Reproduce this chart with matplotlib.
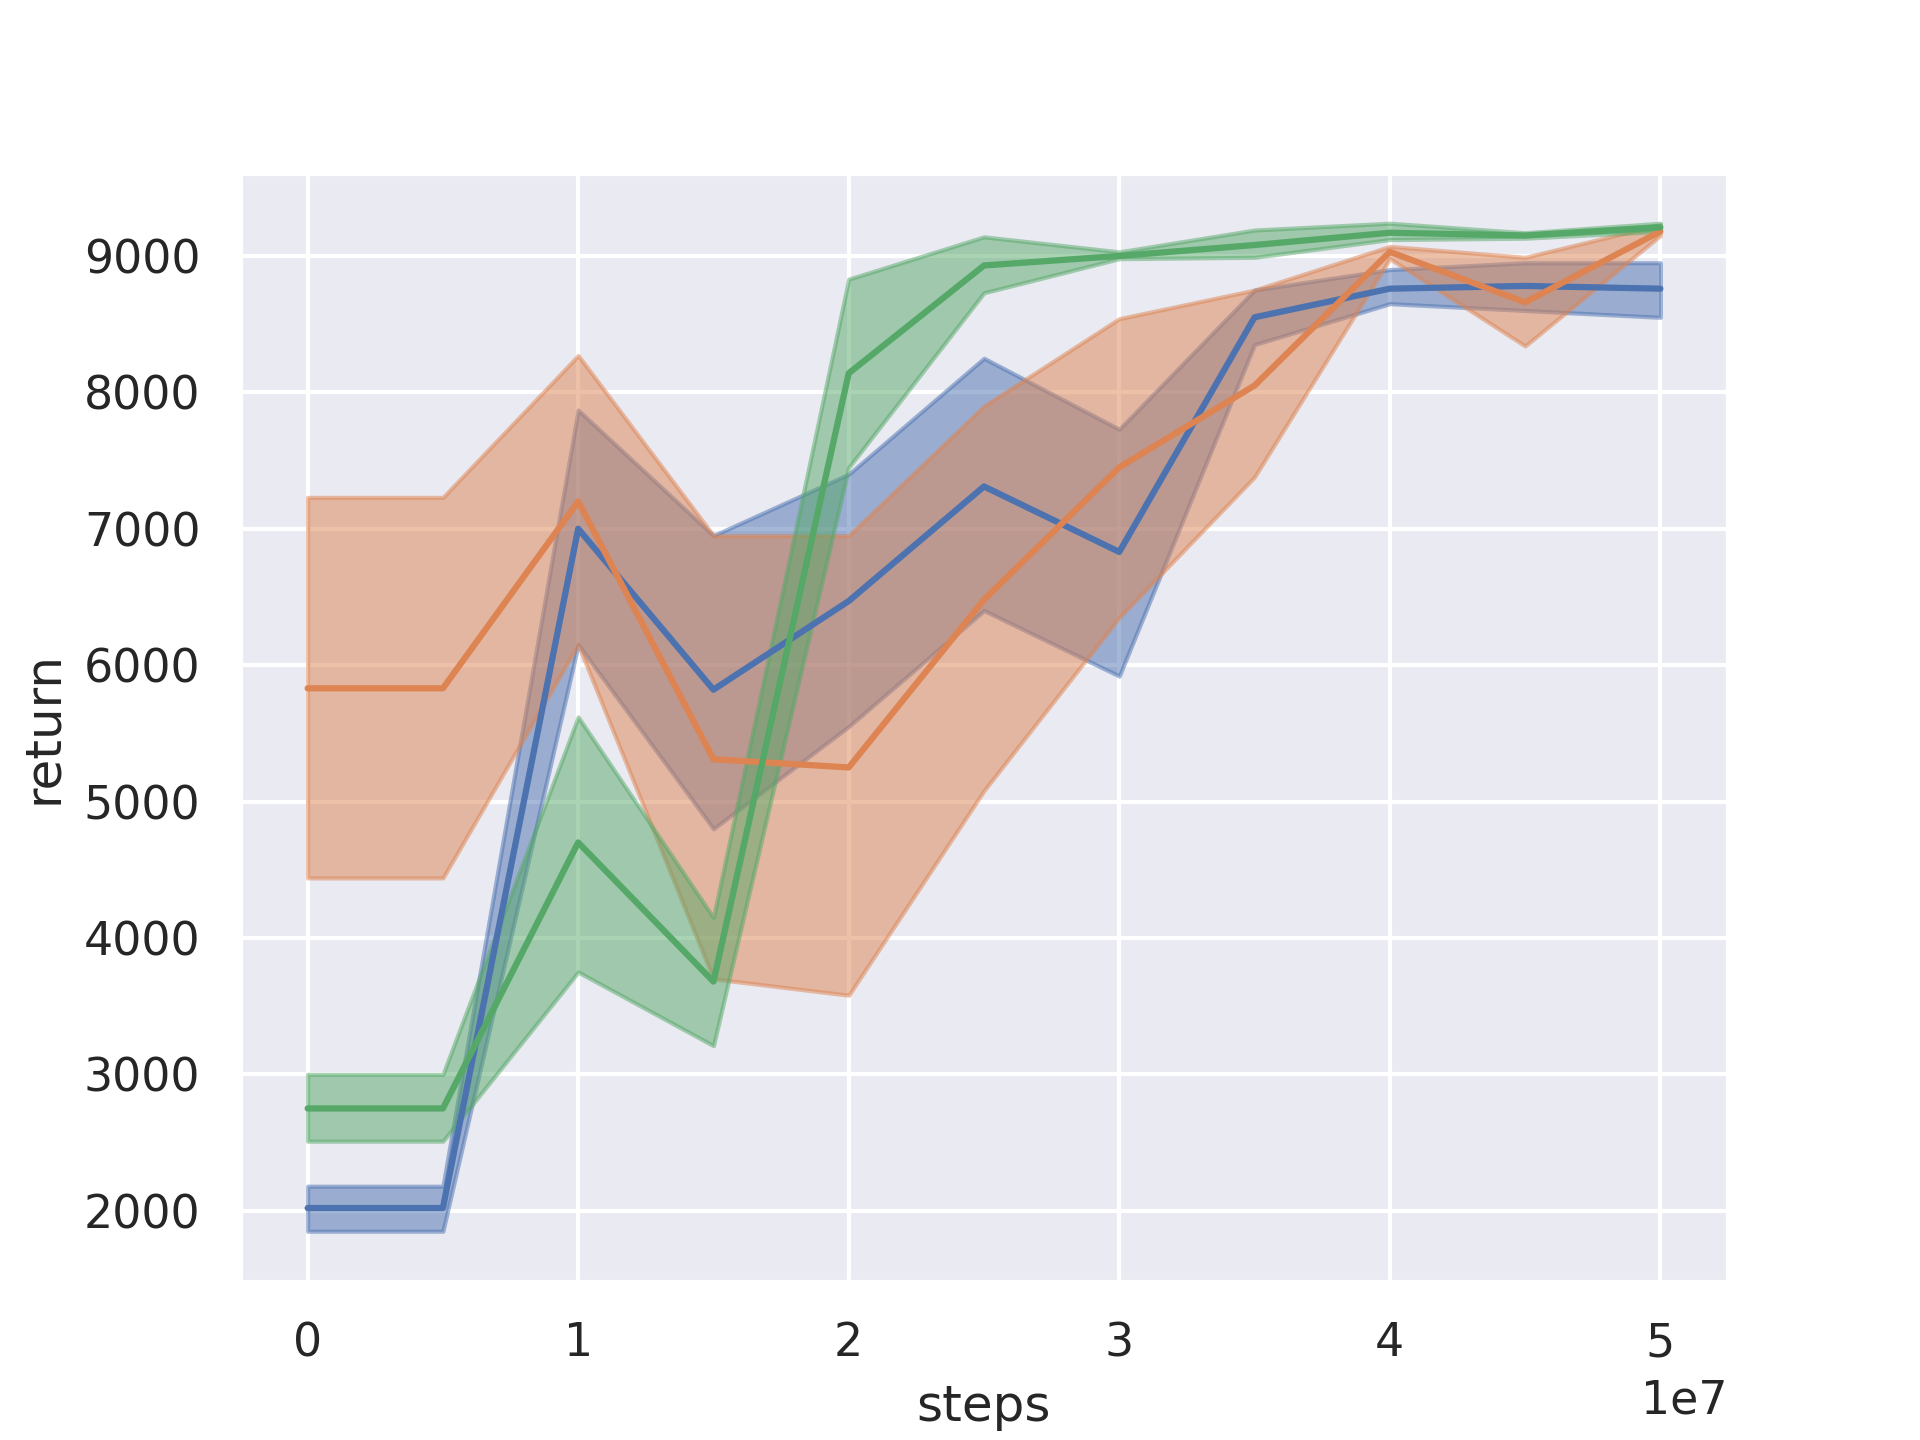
import matplotlib
matplotlib.use("Agg")
import matplotlib.pyplot as plt
import seaborn as sns
import numpy as np

sns.set_theme()

steps = [0, 5e6, 1e7, 1.5e7, 2e7, 2.5e7, 3e7, 3.5e7, 4e7, 4.5e7, 5e7]

blue_mean = [2020, 2020, 7000, 5820, 6470, 7310, 6830, 8550, 8760, 8780, 8760]
blue_lo = [1850, 1850, 6150, 4800, 5550, 6400, 5920, 8350, 8650, 8600, 8550]
blue_hi = [2180, 2180, 7870, 6950, 7400, 8250, 7730, 8750, 8900, 8950, 8950]

orange_mean = [5830, 5830, 7200, 5310, 5250, 6480, 7450, 8050, 9030, 8660, 9180]
orange_lo = [4440, 4440, 6150, 3700, 3580, 5080, 6350, 7380, 8980, 8340, 9150]
orange_hi = [7230, 7230, 8270, 6950, 6950, 7900, 8540, 8750, 9070, 8990, 9230]

green_mean = [2750, 2750, 4700, 3680, 8140, 8930, 9000, 9080, 9170, 9150, 9210]
green_lo = [2510, 2510, 3750, 3210, 7450, 8730, 8980, 8990, 9120, 9130, 9180]
green_hi = [3000, 3000, 5620, 4150, 8830, 9140, 9030, 9190, 9240, 9170, 9240]

colors = sns.color_palette()
series = [
    (blue_mean, blue_lo, blue_hi, colors[0]),
    (orange_mean, orange_lo, orange_hi, colors[1]),
    (green_mean, green_lo, green_hi, colors[2]),
]

fig, ax = plt.subplots(figsize=(6.4, 4.8), dpi=300)
for m, lo, hi, c in series:
    ax.fill_between(steps, lo, hi, color=c, alpha=0.5)
for m, lo, hi, c in series:
    ax.plot(steps, m, color=c, linewidth=1.5)

ax.set_xlabel("steps")
ax.set_ylabel("return")
fig.savefig("out.png", dpi=300)
